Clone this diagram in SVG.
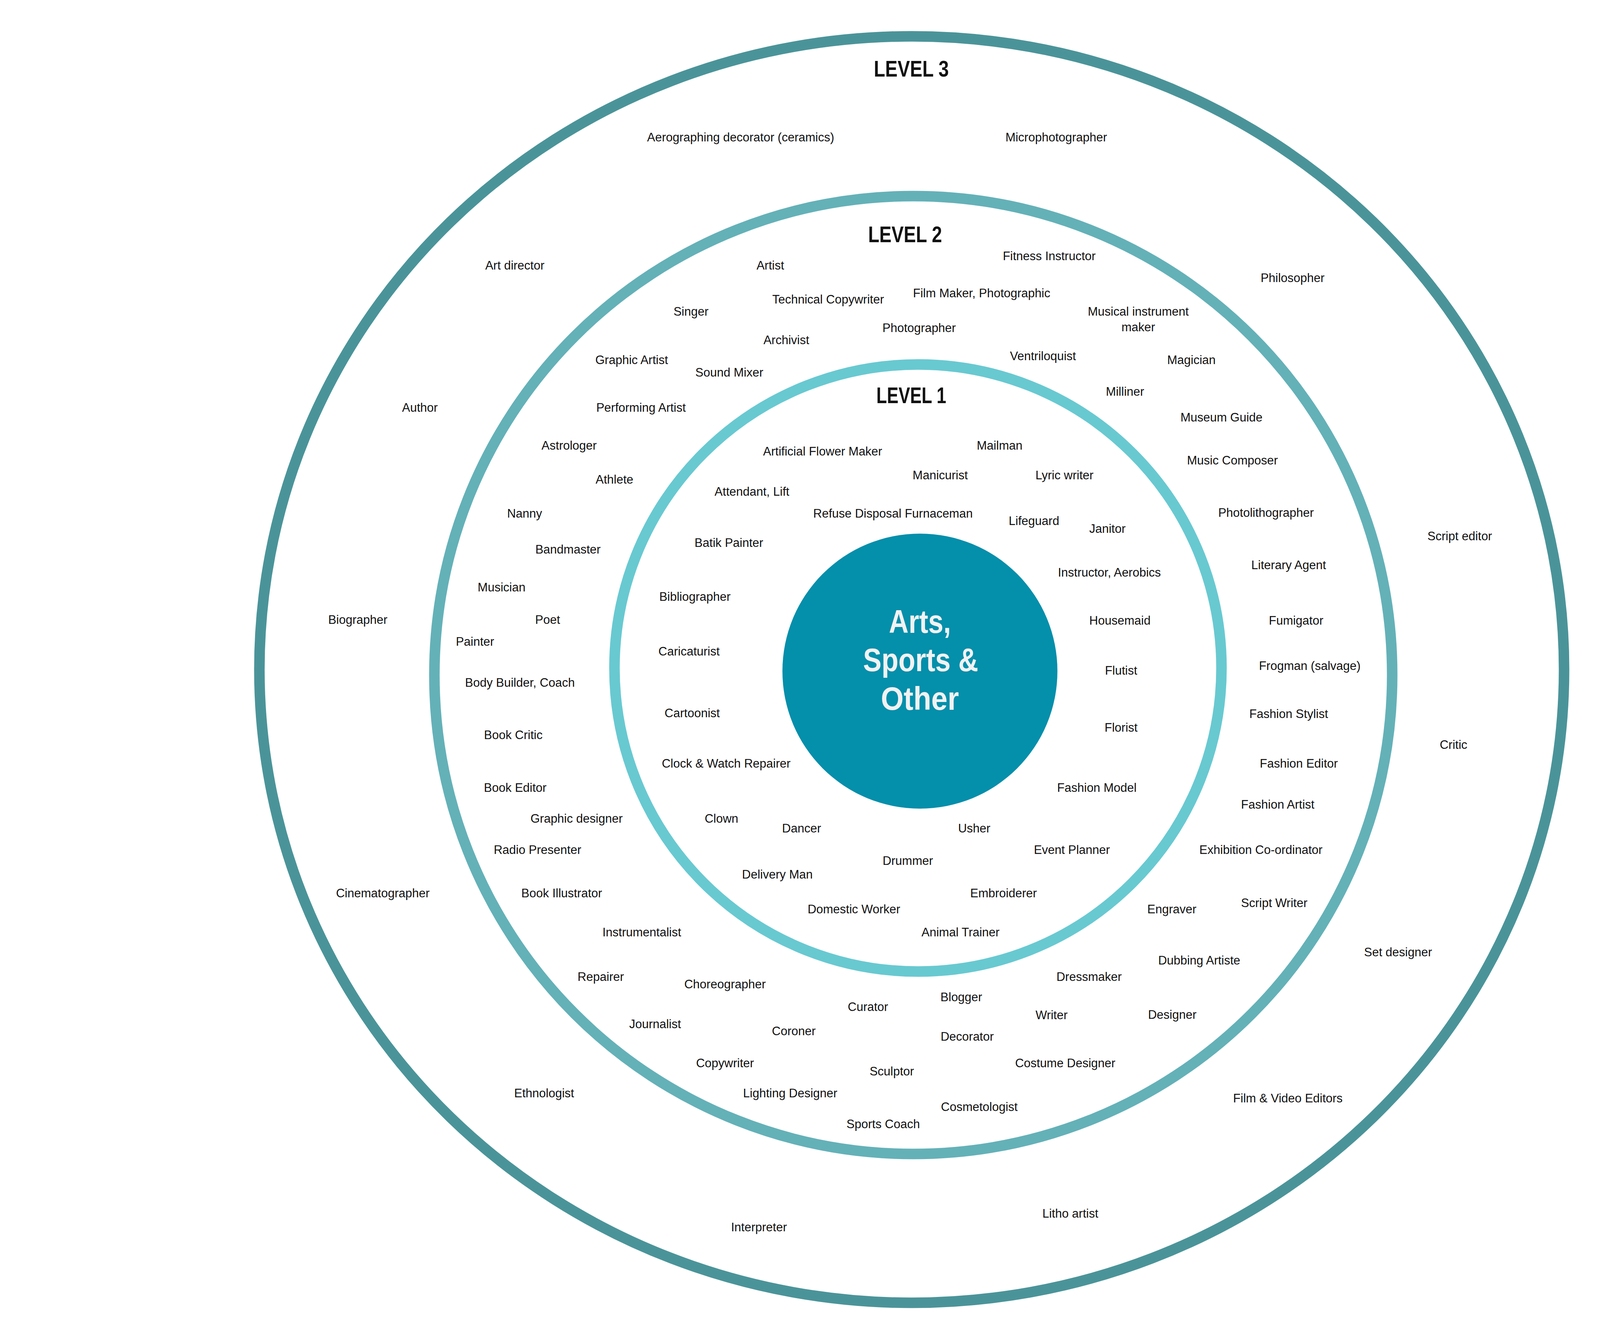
<svg xmlns="http://www.w3.org/2000/svg" width="4677" height="3420" viewBox="0 0 4677 3420">
<style>
.ring{fill:none;stroke-width:27}
.lbl{font-family:"Liberation Sans",Arial,sans-serif;font-size:31px;fill:#111;text-anchor:middle}
.ttl{font-family:"Liberation Sans",Arial,sans-serif;font-weight:bold;font-size:57px;fill:#111;text-anchor:middle}
.ctr{font-family:"Liberation Sans",Arial,sans-serif;font-weight:bold;font-size:84px;fill:#F2F2F2;text-anchor:middle}
</style>
<rect x="0" y="0" width="4677" height="3420" fill="#ffffff"/>
<g id="level3">
<ellipse class="ring" cx="2334" cy="1714" rx="1670" ry="1621" stroke="#4A9499"/>
<text class="ttl" x="2333" y="196" textLength="192" lengthAdjust="spacingAndGlyphs">LEVEL 3</text>
<text class="lbl" x="1896" y="362">Aerographing decorator (ceramics)</text>
<text class="lbl" x="2704" y="362">Microphotographer</text>
<text class="lbl" x="1318" y="690">Art director</text>
<text class="lbl" x="3309" y="722">Philosopher</text>
<text class="lbl" x="1075" y="1054">Author</text>
<text class="lbl" x="3737" y="1383">Script editor</text>
<text class="lbl" x="916" y="1597">Biographer</text>
<text class="lbl" x="3721" y="1917">Critic</text>
<text class="lbl" x="980" y="2297">Cinematographer</text>
<text class="lbl" x="3579" y="2448">Set designer</text>
<text class="lbl" x="1393" y="2809">Ethnologist</text>
<text class="lbl" x="3297" y="2822">Film &amp; Video Editors</text>
<text class="lbl" x="2740" y="3117">Litho artist</text>
<text class="lbl" x="1943" y="3152">Interpreter</text>
</g>
<g id="level2">
<circle class="ring" cx="2338" cy="1728" r="1226" stroke="#64B1B8"/>
<text class="ttl" x="2317" y="620" textLength="189" lengthAdjust="spacingAndGlyphs">LEVEL 2</text>
<text class="lbl" x="2686" y="666">Fitness Instructor</text>
<text class="lbl" x="1972" y="690">Artist</text>
<text class="lbl" x="2513" y="761">Film Maker, Photographic</text>
<text class="lbl" x="2120" y="777">Technical Copywriter</text>
<text class="lbl" x="1769" y="808">Singer</text>
<text class="lbl" x="2914" y="808">Musical instrument<tspan x="2914" dy="40">maker</tspan></text>
<text class="lbl" x="2353" y="850">Photographer</text>
<text class="lbl" x="2013" y="881">Archivist</text>
<text class="lbl" x="2670" y="922">Ventriloquist</text>
<text class="lbl" x="1617" y="932">Graphic Artist</text>
<text class="lbl" x="3050" y="932">Magician</text>
<text class="lbl" x="1867" y="964">Sound Mixer</text>
<text class="lbl" x="2880" y="1013">Milliner</text>
<text class="lbl" x="1641" y="1054">Performing Artist</text>
<text class="lbl" x="3127" y="1079">Museum Guide</text>
<text class="lbl" x="1457" y="1151">Astrologer</text>
<text class="lbl" x="3155" y="1189">Music Composer</text>
<text class="lbl" x="1573" y="1238">Athlete</text>
<text class="lbl" x="1343" y="1325">Nanny</text>
<text class="lbl" x="3241" y="1323">Photolithographer</text>
<text class="lbl" x="1454" y="1417">Bandmaster</text>
<text class="lbl" x="3299" y="1457">Literary Agent</text>
<text class="lbl" x="1284" y="1514">Musician</text>
<text class="lbl" x="1402" y="1597">Poet</text>
<text class="lbl" x="3318" y="1599">Fumigator</text>
<text class="lbl" x="1216" y="1653">Painter</text>
<text class="lbl" x="3353" y="1715">Frogman (salvage)</text>
<text class="lbl" x="1331" y="1758">Body Builder, Coach</text>
<text class="lbl" x="3299" y="1838">Fashion Stylist</text>
<text class="lbl" x="1314" y="1892">Book Critic</text>
<text class="lbl" x="3325" y="1965">Fashion Editor</text>
<text class="lbl" x="1319" y="2027">Book Editor</text>
<text class="lbl" x="3271" y="2070">Fashion Artist</text>
<text class="lbl" x="1476" y="2106">Graphic designer</text>
<text class="lbl" x="1376" y="2186">Radio Presenter</text>
<text class="lbl" x="3228" y="2186">Exhibition Co-ordinator</text>
<text class="lbl" x="1438" y="2297">Book Illustrator</text>
<text class="lbl" x="3262" y="2322">Script Writer</text>
<text class="lbl" x="3000" y="2338">Engraver</text>
<text class="lbl" x="1643" y="2397">Instrumentalist</text>
<text class="lbl" x="3070" y="2469">Dubbing Artiste</text>
<text class="lbl" x="1538" y="2511">Repairer</text>
<text class="lbl" x="2788" y="2511">Dressmaker</text>
<text class="lbl" x="1856" y="2530">Choreographer</text>
<text class="lbl" x="2461" y="2563">Blogger</text>
<text class="lbl" x="2222" y="2588">Curator</text>
<text class="lbl" x="3001" y="2608">Designer</text>
<text class="lbl" x="2692" y="2609">Writer</text>
<text class="lbl" x="1677" y="2632">Journalist</text>
<text class="lbl" x="2032" y="2650">Coroner</text>
<text class="lbl" x="2476" y="2664">Decorator</text>
<text class="lbl" x="1856" y="2732">Copywriter</text>
<text class="lbl" x="2727" y="2732">Costume Designer</text>
<text class="lbl" x="2283" y="2753">Sculptor</text>
<text class="lbl" x="2023" y="2809">Lighting Designer</text>
<text class="lbl" x="2507" y="2844">Cosmetologist</text>
<text class="lbl" x="2261" y="2888">Sports Coach</text>
</g>
<g id="level1">
<circle class="ring" cx="2350" cy="1710" r="777" stroke="#68C9D1"/>
<text class="ttl" x="2333" y="1032" textLength="179" lengthAdjust="spacingAndGlyphs">LEVEL 1</text>
<text class="lbl" x="2559" y="1151">Mailman</text>
<text class="lbl" x="2106" y="1166">Artificial Flower Maker</text>
<text class="lbl" x="2407" y="1227">Manicurist</text>
<text class="lbl" x="2725" y="1227">Lyric writer</text>
<text class="lbl" x="1925" y="1269">Attendant, Lift</text>
<text class="lbl" x="2286" y="1325">Refuse Disposal Furnaceman</text>
<text class="lbl" x="2647" y="1344">Lifeguard</text>
<text class="lbl" x="2835" y="1364">Janitor</text>
<text class="lbl" x="1866" y="1400">Batik Painter</text>
<text class="lbl" x="2840" y="1476">Instructor, Aerobics</text>
<text class="lbl" x="1779" y="1538">Bibliographer</text>
<text class="lbl" x="2867" y="1599">Housemaid</text>
<text class="lbl" x="1764" y="1678">Caricaturist</text>
<text class="lbl" x="2870" y="1727">Flutist</text>
<text class="lbl" x="1772" y="1836">Cartoonist</text>
<text class="lbl" x="2870" y="1873">Florist</text>
<text class="lbl" x="1859" y="1965">Clock &amp; Watch Repairer</text>
<text class="lbl" x="2808" y="2027">Fashion Model</text>
<text class="lbl" x="1847" y="2106">Clown</text>
<text class="lbl" x="2052" y="2131">Dancer</text>
<text class="lbl" x="2494" y="2131">Usher</text>
<text class="lbl" x="2744" y="2186">Event Planner</text>
<text class="lbl" x="2324" y="2214">Drummer</text>
<text class="lbl" x="1990" y="2249">Delivery Man</text>
<text class="lbl" x="2569" y="2297">Embroiderer</text>
<text class="lbl" x="2186" y="2338">Domestic Worker</text>
<text class="lbl" x="2459" y="2397">Animal Trainer</text>
</g>
<g id="center">
<circle cx="2355" cy="1718" r="352" fill="#048FAB"/>
<text class="ctr" x="2355" y="1620" textLength="159" lengthAdjust="spacingAndGlyphs">Arts,</text>
<text class="ctr" x="2357" y="1718" textLength="295" lengthAdjust="spacingAndGlyphs">Sports &amp;</text>
<text class="ctr" x="2355" y="1817" textLength="200" lengthAdjust="spacingAndGlyphs">Other</text>
</g>
</svg>
